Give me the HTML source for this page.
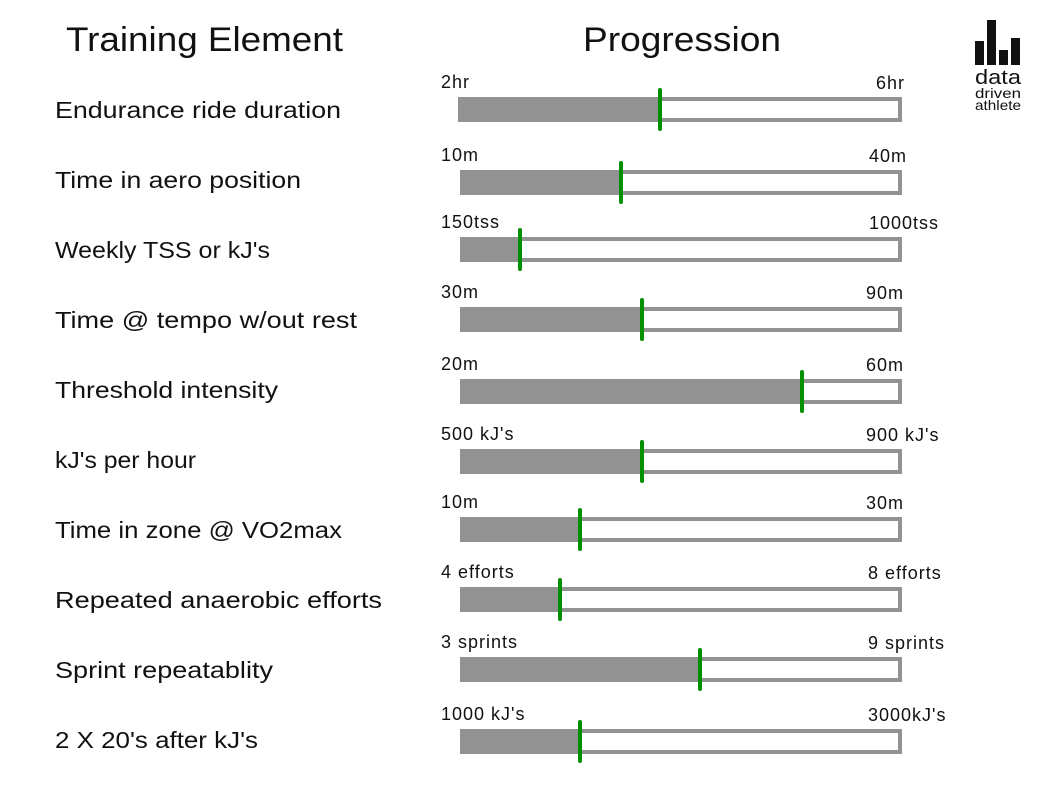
<!DOCTYPE html>
<html><head><meta charset="utf-8"><style>
body{margin:0;background:#fff;}
svg text{font-family:"Liberation Sans",sans-serif;fill:#111;}
</style></head><body>
<svg width="1040" height="800" viewBox="0 0 1040 800">
<text x="66" y="51" font-size="34" textLength="277" lengthAdjust="spacingAndGlyphs">Training Element</text>
<text x="583" y="51" font-size="34" textLength="198" lengthAdjust="spacingAndGlyphs">Progression</text>
<g fill="#111">
<rect x="975" y="41" width="9" height="24"/>
<rect x="987" y="20" width="9" height="45"/>
<rect x="999" y="50" width="9" height="15"/>
<rect x="1011" y="38" width="9" height="27"/>
</g>
<text x="975" y="84" font-size="20" textLength="46" lengthAdjust="spacingAndGlyphs">data</text>
<text x="975" y="98" font-size="14" textLength="46" lengthAdjust="spacingAndGlyphs">driven</text>
<text x="975" y="110" font-size="14" textLength="46" lengthAdjust="spacingAndGlyphs">athlete</text>
<g id="rows"></g>
</svg>
<script>
var rows=[
["Endurance ride duration",341,"2hr","6hr",97,660,876],
["Time in aero position",301,"10m","40m",170,621,869],
["Weekly TSS or kJ's",270,"150tss","1000tss",237,520,869],
["Time @ tempo w/out rest",357,"30m","90m",307,642,866],
["Threshold intensity",278,"20m","60m",379,802,866],
["kJ's per hour",196,"500 kJ's","900 kJ's",449,642,866],
["Time in zone @ VO2max",342,"10m","30m",517,580,866],
["Repeated anaerobic efforts",382,"4 efforts","8 efforts",587,560,868],
["Sprint repeatablity",273,"3 sprints","9 sprints",657,700,868],
["2 X 20's after kJ's",258,"1000 kJ's","3000kJ's",729,580,868]];
var centers=[110,180,250,320,390,460,530,600,670,740];
var g=document.getElementById('rows'),h='';
rows.forEach(function(r,i){
var t=r[4];
h+='<text x="55" y="'+(centers[i]+8)+'" font-size="23" textLength="'+(r[1]-55)+'" lengthAdjust="spacingAndGlyphs">'+r[0]+'</text>';
h+='<text x="441" y="'+(t-9)+'" font-size="18" letter-spacing="1">'+r[2]+'</text>';
h+='<text x="'+r[6]+'" y="'+(t-8)+'" font-size="18" letter-spacing="1">'+r[3]+'</text>';
h+='<rect x="'+(i==0?460:462)+'" y="'+(t+2)+'" width="'+(i==0?440:438)+'" height="21" fill="none" stroke="#929292" stroke-width="4"/>';
h+='<rect x="'+(i==0?458:460)+'" y="'+t+'" width="'+(r[5]-(i==0?458:460))+'" height="25" fill="#929292" rx="2"/>';
h+='<rect x="'+(r[5]-2)+'" y="'+(t-9)+'" width="4" height="43" rx="2" fill="#009000"/>';
});
g.innerHTML=h;
</script>
</body></html>
